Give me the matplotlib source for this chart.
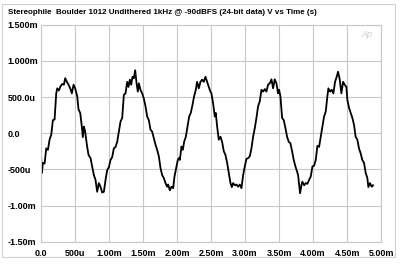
import numpy as np
import matplotlib
matplotlib.use("Agg")
import matplotlib.pyplot as plt
import matplotlib.ticker as ticker
from matplotlib.patches import Rectangle

# time in ms, level in mV
time_ms = [
    0.000, 0.010, 0.025, 0.050, 0.074, 0.099, 0.123, 0.148, 0.172, 0.197,
    0.221, 0.236, 0.260, 0.285, 0.309, 0.334, 0.353, 0.378, 0.402, 0.427,
    0.451, 0.476, 0.500, 0.530, 0.549, 0.574, 0.598, 0.613, 0.628, 0.647,
    0.672, 0.696, 0.726, 0.750, 0.775, 0.799, 0.824, 0.848, 0.873, 0.897,
    0.922, 0.947, 0.971, 0.996, 1.020, 1.045, 1.069, 1.094, 1.118, 1.143,
    1.167, 1.192,
    1.216, 1.241, 1.265, 1.285, 1.304, 1.324, 1.344, 1.363, 1.383, 1.403,
    1.422, 1.437, 1.461, 1.486, 1.510, 1.535, 1.559, 1.584, 1.608, 1.633,
    1.657, 1.682, 1.706, 1.731, 1.755, 1.780, 1.804, 1.829, 1.853, 1.868,
    1.893, 1.917, 1.942, 1.961, 1.986, 2.010, 2.025, 2.040, 2.064, 2.084,
    2.103, 2.128, 2.152, 2.177, 2.201, 2.226, 2.250, 2.275, 2.294, 2.319,
    2.343, 2.368, 2.392, 2.417, 2.441, 2.466, 2.490,
    2.505, 2.530, 2.554, 2.569, 2.589, 2.613, 2.638, 2.662, 2.687, 2.711,
    2.736, 2.760, 2.785, 2.805, 2.824, 2.849, 2.873, 2.898, 2.922, 2.947,
    2.971, 2.996, 3.020, 3.045, 3.069, 3.094, 3.118, 3.143, 3.167, 3.191,
    3.216, 3.241, 3.265, 3.290, 3.314, 3.338, 3.363, 3.388, 3.412, 3.436,
    3.461, 3.486, 3.500, 3.520, 3.545, 3.569, 3.594, 3.618, 3.643, 3.667,
    3.692, 3.716, 3.741, 3.765, 3.780,
    3.809, 3.829, 3.843, 3.868, 3.893, 3.917, 3.942, 3.966, 3.991, 4.015,
    4.040, 4.064, 4.089, 4.113, 4.138, 4.162, 4.187, 4.211, 4.226, 4.250,
    4.275, 4.299, 4.324, 4.348, 4.368, 4.393, 4.417, 4.442, 4.466, 4.491,
    4.505, 4.530, 4.554, 4.579, 4.603, 4.627, 4.652, 4.676, 4.701, 4.725,
    4.750, 4.775, 4.799, 4.814, 4.838, 4.863, 4.882,
]
level_mv = [
    -0.345, -0.55, -0.41, -0.42, -0.21, -0.23, -0.09, -0.02, 0.18, 0.19,
    0.55, 0.62, 0.59, 0.65, 0.68, 0.67, 0.76, 0.71, 0.67, 0.62,
    0.55, 0.67, 0.62, 0.51, 0.33, 0.28, 0.09, -0.055, 0.09, 0.02,
    -0.16, -0.30, -0.345, -0.46, -0.58, -0.645, -0.81, -0.69, -0.74, -0.82,
    -0.81, -0.645, -0.51, -0.47, -0.37, -0.33, -0.21, -0.19, -0.12, 0.02,
    0.16, 0.21,
    0.53, 0.55, 0.71, 0.64, 0.74, 0.67, 0.78, 0.76, 0.87, 0.69,
    0.575, 0.69, 0.60, 0.55, 0.48, 0.37, 0.23, 0.18, 0.05, 0.02,
    -0.07, -0.16, -0.23, -0.32, -0.48, -0.58, -0.62, -0.69, -0.74, -0.71,
    -0.79, -0.74, -0.76, -0.60, -0.48, -0.37, -0.345, -0.37, -0.185, -0.23,
    -0.12, -0.05, 0.09, 0.23, 0.28, 0.39, 0.51, 0.60, 0.71, 0.62,
    0.71, 0.74, 0.71, 0.78, 0.71, 0.64, 0.575,
    0.55, 0.41, 0.23, 0.28, 0.09, -0.09, -0.05, -0.12, -0.25, -0.30,
    -0.41, -0.55, -0.69, -0.745, -0.69, -0.72, -0.71, -0.74, -0.71, -0.76,
    -0.58, -0.46, -0.355, -0.345, -0.32, -0.21, -0.05, 0.07, 0.21, 0.37,
    0.44, 0.60, 0.575, 0.61, 0.575, 0.67, 0.69, 0.745, 0.62, 0.745,
    0.69, 0.55, 0.60, 0.51, 0.21, 0.18, 0.07, -0.05, -0.12, -0.14,
    -0.25, -0.37, -0.46, -0.53, -0.58,
    -0.83, -0.72, -0.67, -0.72, -0.69, -0.70, -0.645, -0.60, -0.46, -0.45,
    -0.37, -0.175, -0.19, -0.05, 0.09, 0.23, 0.30, 0.51, 0.62, 0.575,
    0.60, 0.55, 0.71, 0.78, 0.85, 0.74, 0.55, 0.71, 0.67, 0.64,
    0.46, 0.35, 0.28, 0.21, 0.115, -0.05, -0.09, -0.21, -0.28, -0.37,
    -0.41, -0.55, -0.62, -0.745, -0.69, -0.74, -0.72,
]

x_ticks = [0, 0.5, 1.0, 1.5, 2.0, 2.5, 3.0, 3.5, 4.0, 4.5, 5.0]
x_labels = ["0.0", "500u", "1.00m", "1.50m", "2.00m", "2.50m",
            "3.00m", "3.50m", "4.00m", "4.50m", "5.00m"]
y_ticks = [1.5, 1.0, 0.5, 0.0, -0.5, -1.0, -1.5]
y_labels = ["1.500m", "1.000m", "500.0u", "0.0", "-500u", "-1.00m", "-1.50m"]

title = "Stereophile  Boulder 1012 Undithered 1kHz @ -90dBFS (24-bit data) V vs Time (s)"

plt.rcParams['font.family'] = ['Liberation Sans', 'DejaVu Sans']

fig = plt.figure(figsize=(4.0, 2.66), dpi=100)
ax = fig.add_axes([0.103, 0.0914, 0.8495, 0.8158])

grid_col = '#c8c8c8'
ax.plot(time_ms, level_mv, color='black', linewidth=1.3)
ax.set_xlim(0, 5.0)
ax.set_ylim(-1.5, 1.5)
ax.set_xticks(x_ticks)
ax.set_xticklabels(x_labels)
ax.set_yticks(y_ticks)
ax.set_yticklabels(y_labels)
ax.grid(True, color=grid_col, linewidth=0.8)
for sp in ax.spines.values():
    sp.set_color(grid_col)
    sp.set_linewidth(0.8)
ax.tick_params(axis='both', length=0, labelsize=6.5)
ax.tick_params(axis='x', pad=5)
ax.tick_params(axis='y', pad=24)
for lab in ax.get_yticklabels():
    lab.set_horizontalalignment('left')
    lab.set_fontweight('bold')
for lab in ax.get_xticklabels():
    lab.set_fontweight('bold')

ax.text(0.975, 0.975, "Ap", transform=ax.transAxes, ha='right', va='top',
        fontsize=6.5, style='italic', color='#cccccc')

fig.text(8 / 400, 1 - 13 / 266, title, ha='left', va='center',
         fontsize=5.8, fontweight='bold')

fig.patches.append(Rectangle((2 / 400, 1 - 257 / 266), 393 / 400, 253 / 266,
                             transform=fig.transFigure, fill=False,
                             edgecolor='#d0d0d0', linewidth=0.8))

fig.savefig("out.png", dpi=100)
